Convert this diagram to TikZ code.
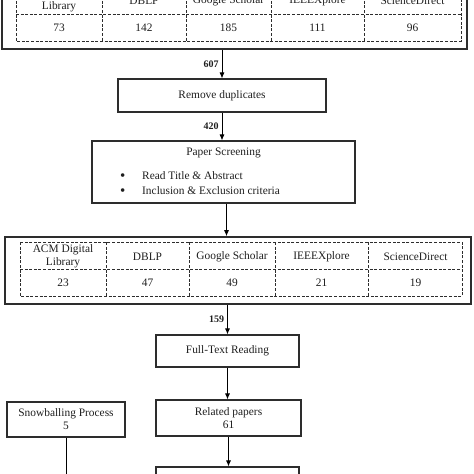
\documentclass[tikz,border=0pt]{standalone}
\usepackage{fontspec}
\setmainfont{Liberation Serif}
\usepackage{tikz}
\usetikzlibrary{arrows.meta}
\definecolor{cLine}{RGB}{45,45,45}
\definecolor{cText}{RGB}{30,30,30}
\tikzset{
  box/.style={draw=cLine,line width=1.1pt,align=center,inner sep=2pt,text=cText},
  tabframe/.style={draw=cLine,line width=1.6pt},
  grid/.style={draw=cLine,line width=0.9pt,dash pattern=on 3pt off 1.6pt},
  cell/.style={align=center,text=cText,inner sep=1pt},
  arr/.style={draw=black,line width=0.9pt,-{Latex[length=6pt,width=5pt]}},
  cnt/.style={font=\bfseries,text=cText,inner sep=3pt}
}
\newcommand{\scrdot}{\makebox[22pt][l]{\raisebox{-0.5pt}{\fontsize{15}{15}\selectfont\textbullet}}}
\begin{document}
\begin{tikzpicture}[x=1pt,y=-1pt,font=\fontsize{11.4}{13}\selectfont]
\useasboundingbox (0,0) rectangle (474,474);
\clip (0,0) rectangle (474,474);
% first search: databases
\node[tabframe,minimum width=465pt,minimum height=67pt] (dbA) at (234.5,15.5) {};
\draw[grid] (16,-13) rectangle (461,41);
\draw[grid] (16,14) -- (461,14);
\draw[grid] (102,-13) -- (102,41);
\draw[grid] (186,-13) -- (186,41);
\draw[grid] (271,-13) -- (271,41);
\draw[grid] (364,-13) -- (364,41);
\node[cell] (hdA1) at (59,0.5) {ACM Digital\\Library};
\node[cell] (hdA2) at (144,1) {DBLP};
\node[cell] (hdA3) at (228.5,1) {Google Scholar};
\node[cell] (hdA4) at (317.5,1) {IEEEXplore};
\node[cell] (hdA5) at (412.5,1) {ScienceDirect};
\node[cell] (nA1) at (59,28) {73};
\node[cell] (nA2) at (144,28) {142};
\node[cell] (nA3) at (228.5,28) {185};
\node[cell] (nA4) at (317.5,28) {111};
\node[cell] (nA5) at (412.5,28) {96};
% duplicates and screening
\node[box,minimum width=208pt,minimum height=33pt] (rem) at (222,95.5) {Remove duplicates};
\node[box,minimum width=263pt,minimum height=62pt] (scr) at (223.5,172) {};
\node[cell] (scrT) at (223.5,153) {Paper Screening};
\node[cell,anchor=west] (scrB1) at (119,176) {\scrdot Read Title \& Abstract};
\node[cell,anchor=west] (scrB2) at (119,191) {\scrdot Inclusion \& Exclusion criteria};
% after screening: databases
\node[tabframe,minimum width=466pt,minimum height=67pt] (dbB) at (238,270.5) {};
\draw[grid] (20,242) rectangle (462,296);
\draw[grid] (20,269) -- (462,269);
\draw[grid] (106,242) -- (106,296);
\draw[grid] (189,242) -- (189,296);
\draw[grid] (275,242) -- (275,296);
\draw[grid] (368,242) -- (368,296);
\node[cell] (hdB1) at (63,256.5) {ACM Digital\\Library};
\node[cell] (hdB2) at (147.5,257) {DBLP};
\node[cell] (hdB3) at (232,257) {Google Scholar};
\node[cell] (hdB4) at (321.5,257) {IEEEXplore};
\node[cell] (hdB5) at (415.5,257) {ScienceDirect};
\node[cell] (nB1) at (63,283) {23};
\node[cell] (nB2) at (147.5,283) {47};
\node[cell] (nB3) at (232,283) {49};
\node[cell] (nB4) at (321.5,283) {21};
\node[cell] (nB5) at (415.5,283) {19};
% reading
\node[box,minimum width=143pt,minimum height=32pt] (ftr) at (227.5,351) {Full-Text Reading};
\node[box,minimum width=145pt,minimum height=36pt] (rel) at (228.5,418) {Related papers\\61};
\node[box,minimum width=118pt,minimum height=35pt] (snow) at (66,419.5) {Snowballing Process\\5};
\node[box,minimum width=143pt,minimum height=36pt] (fin) at (227.5,485) {};
\coordinate (snowEnd) at (66,490);
% connectors
\draw[arr] (dbA.south -| rem.north) -- node[cnt,left] {607} (rem.north);
\draw[arr] (rem.south) -- node[cnt,left] {420} (rem.south |- scr.north);
\draw[arr] ([xshift=3pt]scr.south) -- ([xshift=3pt]scr.south |- dbB.north);
\draw[arr] (dbB.south -| ftr.north) -- node[cnt,left] {159} (ftr.north);
\draw[arr] (ftr.south) -- (ftr.south |- rel.north);
\draw[arr] (rel.south) -- (rel.south |- fin.north);
\draw[draw=black,line width=0.9pt] (snow.south) -- (snowEnd);
\end{tikzpicture}
\end{document}
